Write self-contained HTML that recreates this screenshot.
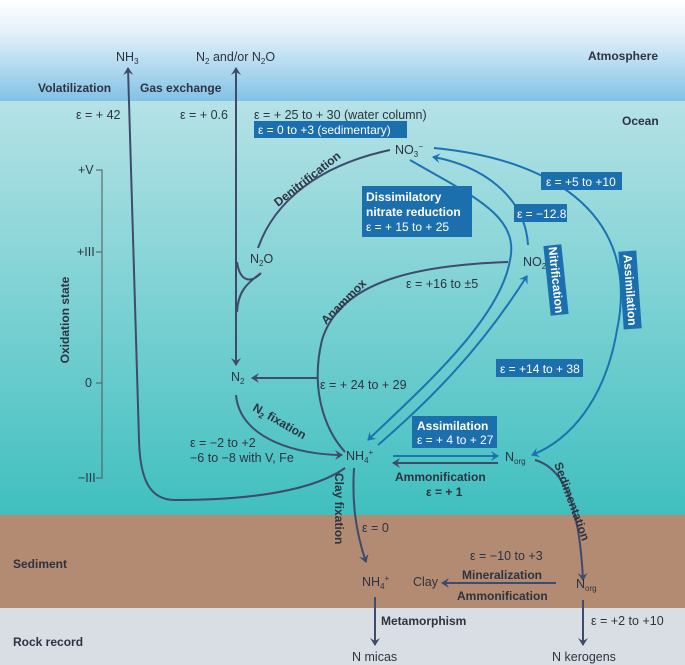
<!DOCTYPE html>
<html><head><meta charset="utf-8"><style>
body{margin:0}
svg{display:block;font-family:"Liberation Sans",sans-serif}
.t{font-size:12.5px;fill:#2d3340}
.b{font-size:12px;font-weight:bold;fill:#2d3340}
.w{font-size:12px;fill:#fff}
.wb{font-size:12px;font-weight:bold;fill:#fff}
.d{fill:none;stroke:#3f4b6c;stroke-width:2}
.u{fill:none;stroke:#1b73b3;stroke-width:2}
</style></head><body>
<svg width="685" height="665" viewBox="0 0 685 665">
<defs>
<linearGradient id="atm" x1="0" y1="0" x2="0" y2="1"><stop offset="0" stop-color="#fff"/><stop offset="0.3" stop-color="#e6f2fa"/><stop offset="1" stop-color="#82c2e6"/></linearGradient>
<linearGradient id="oc" x1="0" y1="0" x2="0" y2="1"><stop offset="0" stop-color="#b5e2e6"/><stop offset="1" stop-color="#40bfbf"/></linearGradient>
<marker id="ad" markerWidth="10" markerHeight="10" refX="7" refY="5" orient="auto" markerUnits="userSpaceOnUse"><path d="M0,0 L8,5 L0,10 L3,5z" fill="#3f4b6c"/></marker>
<marker id="au" markerWidth="10" markerHeight="10" refX="7" refY="5" orient="auto" markerUnits="userSpaceOnUse"><path d="M0,0 L8,5 L0,10 L3,5z" fill="#1b73b3"/></marker>
</defs>
<rect x="0" y="0" width="685" height="101" fill="url(#atm)"/>
<rect x="0" y="101" width="685" height="414" fill="url(#oc)"/>
<rect x="0" y="515" width="685" height="93" fill="#b38a72"/>
<rect x="0" y="608" width="685" height="57" fill="#d9dee5"/>

<text class="b" x="588" y="60">Atmosphere</text>
<text class="b" x="622" y="125">Ocean</text>
<text class="b" x="13" y="568">Sediment</text>
<text class="b" x="13" y="646">Rock record</text>

<text class="t" x="116" y="61">NH<tspan font-size="8" dy="3">3</tspan></text>
<text class="t" x="196" y="61">N<tspan font-size="8" dy="3">2</tspan><tspan dy="-3"> and/or N</tspan><tspan font-size="8" dy="3">2</tspan><tspan dy="-3">O</tspan></text>
<text class="b" x="38" y="92">Volatilization</text>
<text class="b" x="140" y="92">Gas exchange</text>
<text class="t" x="76" y="119">ε = + 42</text>
<text class="t" x="180" y="119">ε = + 0.6</text>
<text class="t" x="254" y="119">ε = + 25 to + 30 (water column)</text>
<rect x="254" y="121" width="153" height="17" fill="#1b6fad"/>
<text class="w" x="258" y="134">ε = 0 to +3 (sedimentary)</text>

<path d="M96,170 H102 V478 H96 M96,252 H102 M96,383 H102" stroke="#555" stroke-width="1" fill="none"/>
<text class="t" x="78" y="174" font-size="10">+V</text>
<text class="t" x="77" y="256" font-size="10">+III</text>
<text class="t" x="85" y="387" font-size="10">0</text>
<text class="t" x="78" y="482" font-size="10">−III</text>
<text class="b" transform="translate(69,320) rotate(-90)" text-anchor="middle">Oxidation state</text>

<path class="d" d="M345,468 C300,500 200,500 175,500 C150,500 140,480 139,440 L128,68" marker-end="url(#ad)"/>
<path class="d" d="M236,360 V68" marker-end="url(#ad)"/>
<path class="d" d="M236,270 V365" marker-end="url(#ad)"/>
<path class="d" d="M261,273 C252,283 240,283 237,262 M261,273 C246,284 238,292 237,312"/>
<text class="t" x="250" y="263">N<tspan font-size="8" dy="3">2</tspan><tspan dy="-3">O</tspan></text>
<text class="t" x="231" y="381">N<tspan font-size="8" dy="3">2</tspan></text>

<path class="d" d="M390,150 C320,165 275,200 258,248"/>
<text class="b" transform="translate(278,207) rotate(-38)">Denitrification</text>
<text class="t" x="395" y="154">NO<tspan font-size="8" dy="3">3</tspan><tspan font-size="8" dy="-8">−</tspan></text>

<path class="d" d="M508,262 C420,265 340,280 322,340 C310,390 325,430 345,452"/>
<path class="d" d="M318,378 H252" marker-end="url(#ad)"/>
<text class="b" transform="translate(326,325) rotate(-45)">Anammox</text>
<text class="t" x="406" y="288">ε = +16 to ±5</text>
<text class="t" x="320" y="389">ε = + 24 to + 29</text>

<path class="d" d="M236,395 C240,440 300,455 342,455" marker-end="url(#ad)"/>
<text class="b" transform="translate(252,410) rotate(30)">N<tspan font-size="8" dy="3">2</tspan><tspan dy="-3"> fixation</tspan></text>
<text class="t" x="190" y="447">ε = −2 to +2</text>
<text class="t" x="190" y="462">−6 to −8 with V, Fe</text>
<text class="t" x="346" y="460">NH<tspan font-size="8" dy="3">4</tspan><tspan font-size="8" dy="-8">+</tspan></text>

<text class="t" x="523" y="266">NO<tspan font-size="8" dy="3">2</tspan><tspan font-size="8" dy="-8">−</tspan></text>
<path class="u" d="M378,445 C430,400 480,350 527,276" marker-end="url(#au)"/>
<path class="u" d="M410,160 C470,195 520,215 510,260 C500,320 420,390 368,440" marker-end="url(#au)"/>
<path class="u" d="M528,245 C525,195 480,165 433,157" marker-end="url(#au)"/>
<path class="u" d="M434,148 C560,160 640,220 617,330 C605,400 570,440 532,455" marker-end="url(#au)"/>

<rect x="362" y="186" width="110" height="51" fill="#1b6fad"/>
<text class="wb" x="366" y="201">Dissimilatory</text>
<text class="wb" x="366" y="216">nitrate reduction</text>
<text class="w" x="366" y="231">ε = + 15 to + 25</text>
<rect x="541" y="172" width="81" height="18" fill="#1b6fad"/>
<text class="w" x="546" y="186">ε = +5 to +10</text>
<rect x="514" y="204" width="53" height="18" fill="#1b6fad"/>
<text class="w" x="517" y="218">ε = −12.8</text>
<rect x="496" y="359" width="87" height="18" fill="#1b6fad"/>
<text class="w" x="500" y="373">ε = +14 to + 38</text>
<g transform="translate(556,280) rotate(84)"><rect x="-35" y="-9" width="70" height="18" fill="#1b6fad"/><text class="wb" text-anchor="middle" y="4">Nitrification</text></g>
<g transform="translate(630,290) rotate(86)"><rect x="-39" y="-9" width="78" height="18" fill="#1b6fad"/><text class="wb" text-anchor="middle" y="4">Assimilation</text></g>

<path class="u" d="M393,456 H498" marker-end="url(#au)"/>
<path class="d" d="M498,463 H393" marker-end="url(#ad)"/>
<rect x="412" y="416" width="85" height="32" fill="#1b6fad"/>
<text class="wb" x="417" y="430">Assimilation</text>
<text class="w" x="417" y="444">ε = + 4 to + 27</text>
<text class="b" x="395" y="481">Ammonification</text>
<text class="b" x="426" y="496">ε = + 1</text>
<text class="t" x="505" y="461">N<tspan font-size="8" dy="3">org</tspan></text>

<path class="d" d="M535,460 C570,470 580,520 583,580" marker-end="url(#ad)"/>
<text class="b" transform="translate(554,464) rotate(70)">Sedimentation</text>
<path class="d" d="M354,468 C352,500 355,530 366,562" marker-end="url(#ad)"/>
<text class="b" transform="translate(335,473) rotate(90)">Clay fixation</text>
<text class="t" x="362" y="532">ε = 0</text>
<text class="t" x="362" y="586">NH<tspan font-size="8" dy="3">4</tspan><tspan font-size="8" dy="-8">+</tspan></text>
<text class="t" x="413" y="586">Clay</text>
<path class="d" d="M556,583 H442" marker-end="url(#ad)"/>
<text class="t" x="470" y="560">ε = −10 to +3</text>
<text class="b" x="462" y="579">Mineralization</text>
<text class="b" x="457" y="600">Ammonification</text>
<text class="t" x="576" y="588">N<tspan font-size="8" dy="3">org</tspan></text>

<path class="d" d="M375,597 V645" marker-end="url(#ad)"/>
<text class="b" x="381" y="625">Metamorphism</text>
<text class="t" x="352" y="661">N micas</text>
<path class="d" d="M583,600 V645" marker-end="url(#ad)"/>
<text class="t" x="591" y="625">ε = +2 to +10</text>
<text class="t" x="552" y="661">N kerogens</text>
</svg>
</body></html>
